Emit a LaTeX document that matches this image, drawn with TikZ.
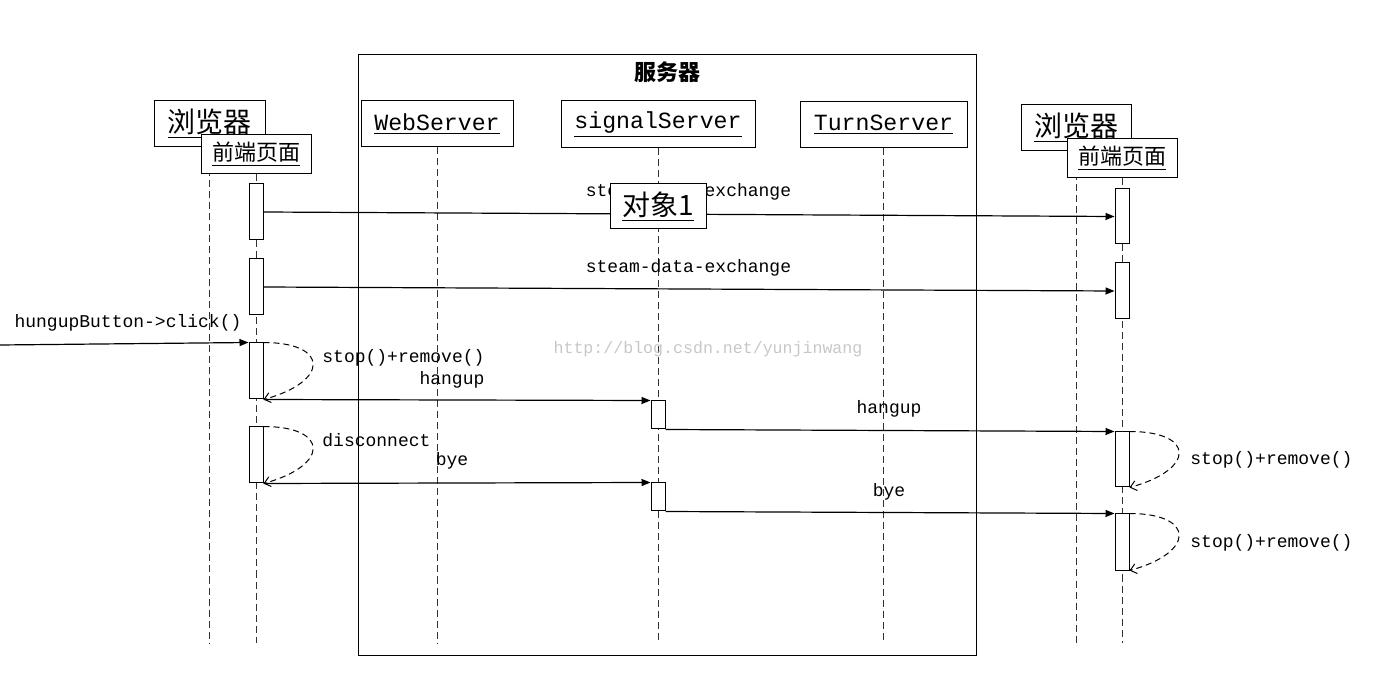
\documentclass[tikz,border=0pt]{standalone}
\usepackage{fontspec}
\setmonofont{Liberation Mono}
\newfontfamily\cjk{Noto Sans CJK SC}
\usetikzlibrary{arrows.meta,backgrounds}
\begin{document}
\begin{tikzpicture}[x=0.5pt,y=-0.5pt,
  every node/.style={inner sep=0pt},
  head/.style={draw, fill=white, line width=0.5pt, font=\ttfamily\fontsize{11.6}{12}\selectfont},
  cnbig/.style={draw, fill=white, line width=0.5pt, font=\cjk\fontsize{14}{14}\selectfont},
  cnsmall/.style={draw, fill=white, line width=0.5pt, font=\cjk\fontsize{11}{11}\selectfont},
  bar/.style={draw, fill=white, line width=0.5pt, minimum width=7pt},
  life/.style={draw=black!80, line width=0.5pt, dash pattern=on 3.5pt off 2pt},
  msg/.style={line width=0.6pt, -{Triangle[length=4.5pt,width=3.5pt]}},
  selfcall/.style={line width=0.5pt, dash pattern=on 3pt off 2pt, -{Straight Barb[length=3pt,width=5pt]}},
  lbl/.style={font=\ttfamily\fontsize{9}{10}\selectfont, anchor=base}
]
\useasboundingbox (0,0) rectangle (1398,673);

% frame
\node[draw, line width=0.5pt, minimum width=309pt, minimum height=300pt] (frame) at (667,355) {};
\node[font=\cjk\bfseries\fontsize{11}{11}\selectfont] (srv) at (667,72) {服务器};

% heads
\node[cnbig, minimum width=55.5pt, minimum height=23pt] (BL) at (209.5,124) {\underline{浏览器}};
\node[cnsmall, minimum width=55pt, minimum height=19.5pt] (PL) at (256,154.5) {\underline{前端页面}};
\node[head, minimum width=76pt, minimum height=23pt] (WS) at (437,124) {\underline{WebServer}};
\node[head, minimum width=97pt, minimum height=23.5pt] (SS) at (658,124.5) {\underline{signalServer}};
\node[head, minimum width=83.5pt, minimum height=23pt] (TS) at (883.5,125) {\underline{TurnServer}};
\node[cnbig, minimum width=55pt, minimum height=23pt] (BR) at (1076,128) {\underline{浏览器}};
\node[cnsmall, minimum width=55pt, minimum height=19.5pt] (PR) at (1122,158.5) {\underline{前端页面}};

% lifeline ends
\coordinate (BLe) at (209.5,643);
\coordinate (PLe) at (256,643);
\coordinate (WSe) at (437,643);
\coordinate (SSe) at (658,643);
\coordinate (TSe) at (883.5,643);
\coordinate (BRe) at (1076,643);
\coordinate (PRe) at (1122,643);

\begin{scope}[on background layer]
\draw[life] (BL.south) -- (BLe);
\draw[life] (PL.south) -- (PLe);
\draw[life] (WS.south) -- (WSe);
\draw[life] (SS.south) -- (SSe);
\draw[life] (TS.south) -- (TSe);
\draw[life] (BR.south) -- (BRe);
\draw[life] (PR.south) -- (PRe);
\end{scope}

% activation bars
\node[bar, minimum height=28pt] (L1) at (256,212) {};
\node[bar, minimum height=28pt] (L2) at (256,287) {};
\node[bar, minimum height=28pt] (L3) at (256,371) {};
\node[bar, minimum height=28pt] (L4) at (256,455) {};
\node[bar, minimum height=27.5pt] (R1) at (1122,216.5) {};
\node[bar, minimum height=28pt] (R2) at (1122,291) {};
\node[bar, minimum height=27.5pt] (R3) at (1122,459.5) {};
\node[bar, minimum height=28pt] (R4) at (1122,542) {};
\node[bar, minimum height=14pt] (S1) at (658,415) {};
\node[bar, minimum height=14pt] (S2) at (658,497) {};

% messages
\draw[msg] (L1.east) -- (R1.west);
\node[lbl] (m1) at (688.5,197) {steam-data-exchange};
\node[cnbig, minimum width=48pt, minimum height=22.5pt] (obj) at (658,206.5) {\underline{对象1}};
\draw[msg] (L2.east) -- (R2.west);
\node[lbl] (m2) at (688.5,273) {steam-data-exchange};

\coordinate (ext) at (0,345);
\draw[msg] (ext) -- (L3.north west);
\node[lbl] (m3) at (128,328) {hungupButton->click()};

\draw[selfcall] (L3.north east) .. controls +(66,0) and +(66,-18) .. (L3.south east);
\node[lbl, anchor=base west] (m4) at (322,363) {stop()+remove()};

\draw[msg] (L3.south east) -- (S1.north west);
\node[lbl] (m5) at (452,385) {hangup};
\draw[msg] (S1.south east) -- (R3.north west);
\node[lbl] (m6) at (889,414) {hangup};

\draw[selfcall] (R3.north east) .. controls +(66,0) and +(66,-18) .. (R3.south east);
\node[lbl, anchor=base west] (m7) at (1190,465) {stop()+remove()};

\draw[selfcall] (L4.north east) .. controls +(66,0) and +(66,-18) .. (L4.south east);
\node[lbl, anchor=base west] (m8) at (322,447) {disconnect};

\draw[msg] (L4.south east) -- (S2.north west);
\node[lbl] (m9) at (452,466) {bye};
\draw[msg] (S2.south east) -- (R4.north west);
\node[lbl] (m10) at (889,496) {bye};

\draw[selfcall] (R4.north east) .. controls +(66,0) and +(66,-18) .. (R4.south east);
\node[lbl, anchor=base west] (m11) at (1190,547) {stop()+remove()};

% watermark
\node[font=\ttfamily\fontsize{8.3}{9}\selectfont, text=black!22, anchor=base] (wm) at (708,354) {http://blog.csdn.net/yunjinwang};
\end{tikzpicture}
\end{document}
